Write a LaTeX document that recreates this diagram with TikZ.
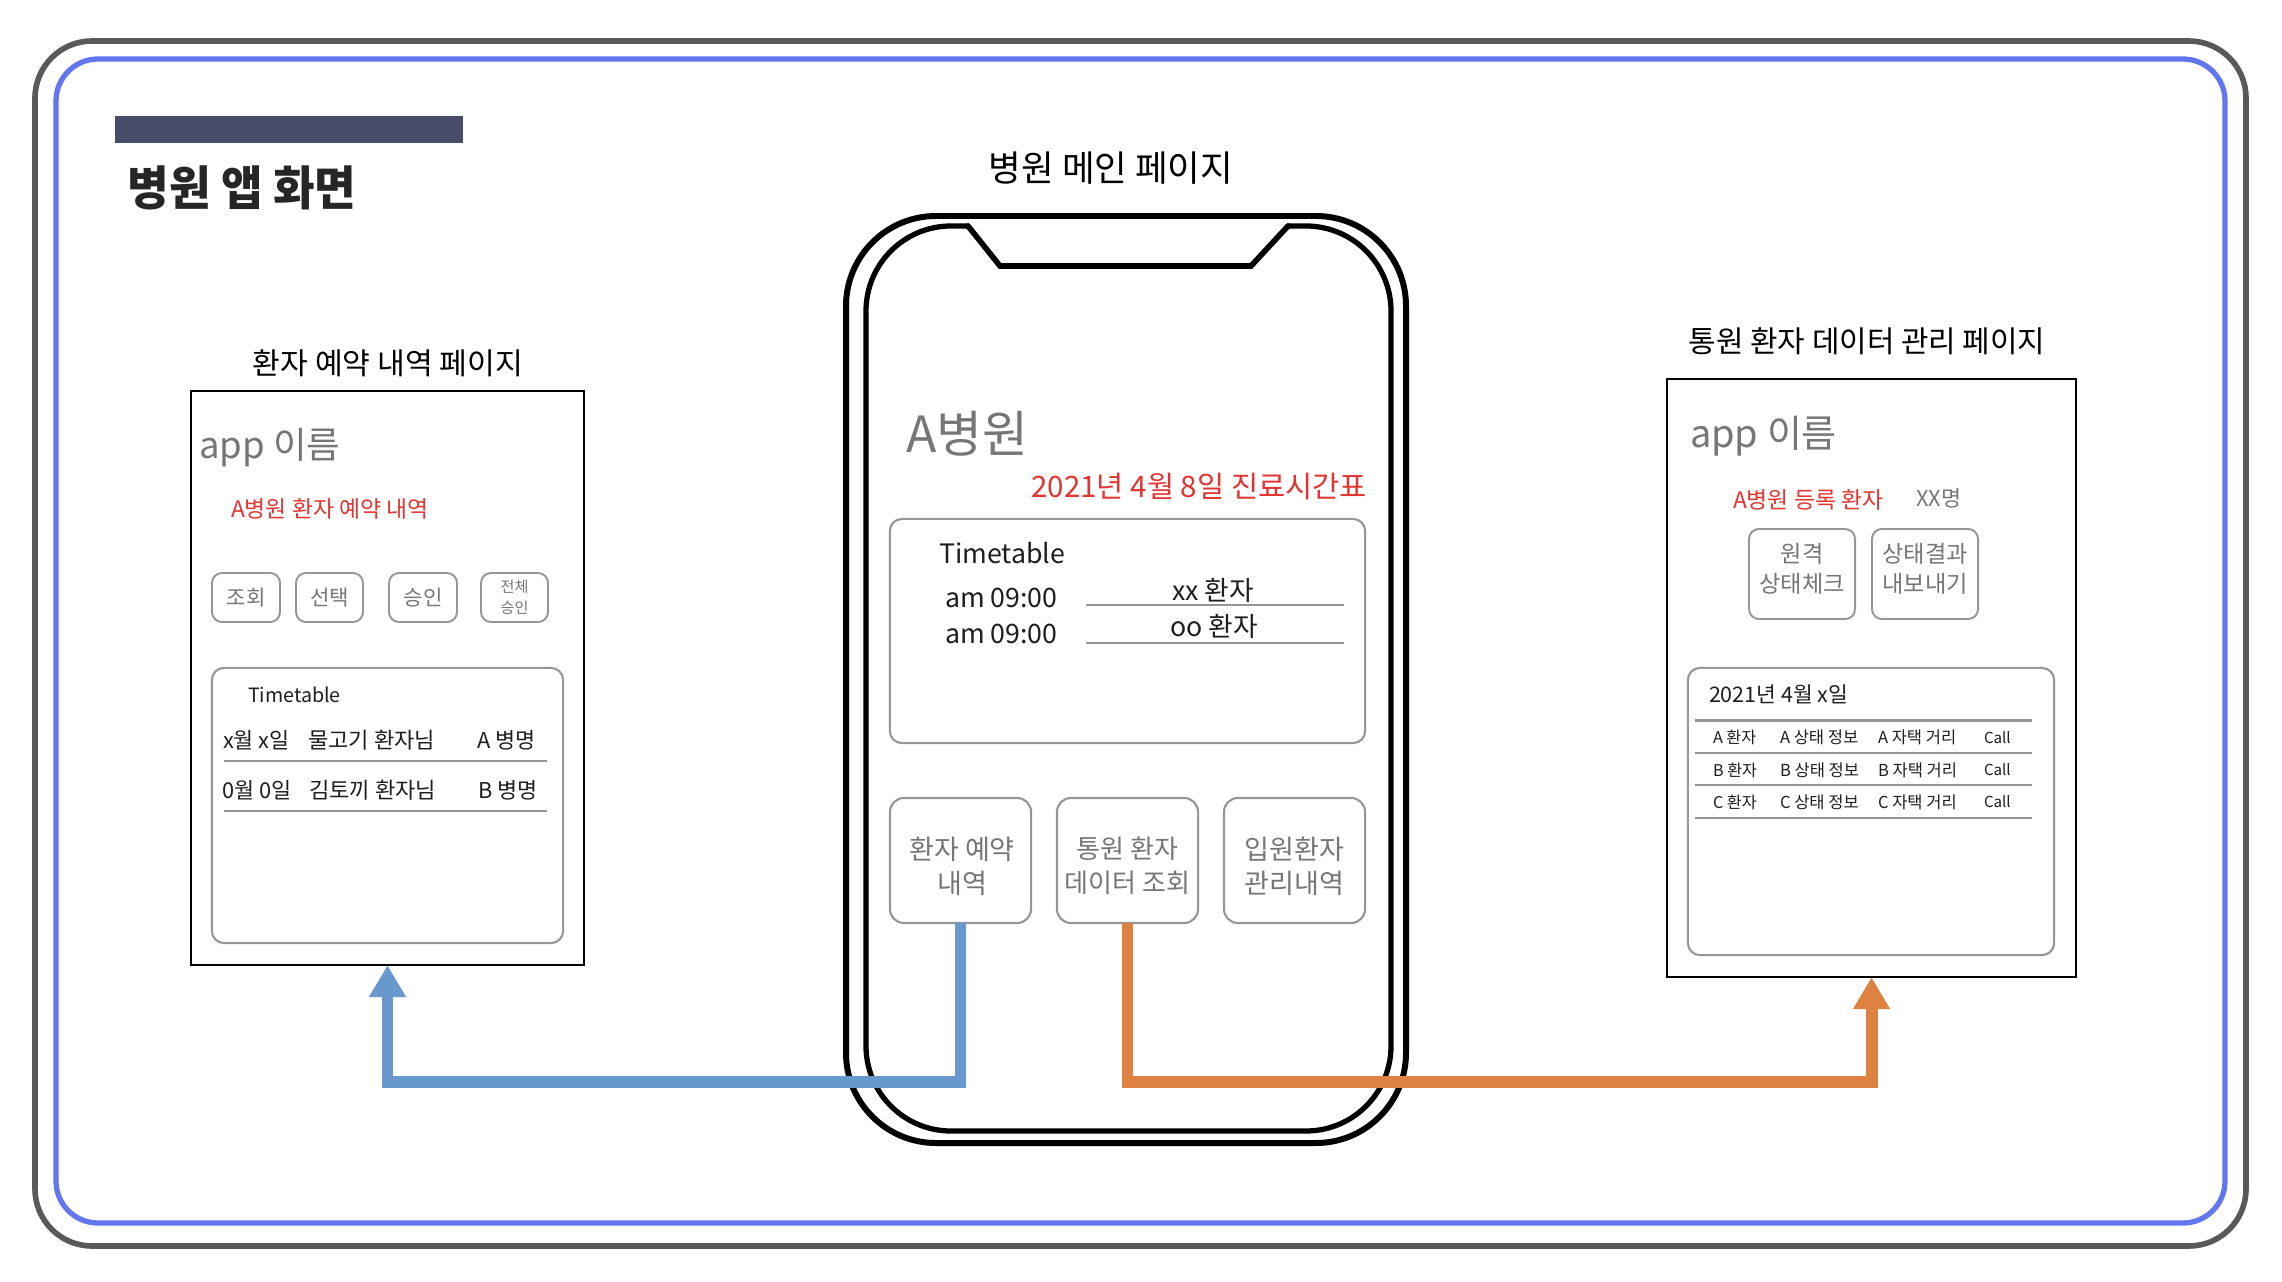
\documentclass[tikz,border=0pt]{standalone}
\usepackage{fontspec}
\setmainfont{Noto Sans CJK KR}
\usetikzlibrary{arrows.meta}
\definecolor{grayframe}{RGB}{89,89,89}
\definecolor{blueframe}{RGB}{98,118,240}
\definecolor{barcol}{RGB}{71,77,105}
\definecolor{titletxt}{RGB}{38,38,38}
\definecolor{txtgray}{RGB}{118,118,118}
\definecolor{redtxt}{RGB}{226,52,48}
\definecolor{boxgray}{RGB}{150,150,150}
\definecolor{arrblue}{RGB}{104,152,206}
\definecolor{arrorange}{RGB}{222,130,66}
\definecolor{darktxt}{RGB}{30,30,30}
\newcommand\fsz[2]{\fontsize{#1pt}{#2pt}\selectfont}
\begin{document}
\begin{tikzpicture}[x=0.01cm,y=-0.01cm,
  every node/.style={inner sep=0pt,outer sep=0pt},
  pagebox/.style={draw=black,line width=0.7pt,rectangle},
  btnS/.style={draw=boxgray,line width=0.55pt,rounded corners=0.1cm,text=txtgray,align=center},
  btnC/.style={draw=boxgray,line width=0.6pt,rounded corners=0.14cm,
     minimum width=1.41cm,minimum height=1.25cm},
  btnCtext/.style={text=txtgray,align=center,font=\fsz{7.7}{9.6}},
  panel/.style={draw=boxgray,line width=0.6pt,rounded corners=0.12cm},
  rowline/.style={draw=boxgray,line width=0.6pt},
  dk/.style={text=darktxt,anchor=west},
  conn/.style={line width=3.4pt,-{Triangle[length=0.32cm,width=0.35cm]}}]
\useasboundingbox (0,0) rectangle (2282,1282);
\fill[white] (0,0) rectangle (2282,1282);
% frames
\draw[grayframe,line width=1.6pt,rounded corners=0.57cm] (35,41) rectangle (2246,1246);
\draw[blueframe,line width=1.5pt,rounded corners=0.42cm] (56,59) rectangle (2225,1223);
% header
\fill[barcol] (115,116) rectangle (463,143);
\node[text=titletxt,font=\bfseries\fsz{13.4}{16}] (title) at (242,188) {\scalebox{0.96}[1]{병원 앱 화면}};
% titles
\node[text=black,font=\fsz{10.2}{12}] (maintitle) at (1111,168) {\scalebox{0.99}[1]{병원 메인 페이지}};
\node[text=black,font=\fsz{8.5}{10}] (lefttitle) at (388,363) {\scalebox{1.01}[1]{환자 예약 내역 페이지}};
\node[text=black,font=\fsz{8.5}{10}] (righttitle) at (1867,341) {통원 환자 데이터 관리 페이지};
% left page
\node[pagebox,minimum width=3.93cm,minimum height=5.74cm] (leftpage) at (387.5,678) {};
\node[anchor=west,text=txtgray,font=\fsz{10.4}{12}] (lapp) at (199,448) {app 이름};
\node[anchor=west,text=redtxt,font=\fsz{6.5}{7}] (lred) at (231,508.5) {A병원 환자 예약 내역};
\node[btnS,minimum width=0.68cm,minimum height=0.49cm,font=\fsz{6}{7}] (lb1) at (246,597.5) {조회};
\node[btnS,minimum width=0.67cm,minimum height=0.49cm,font=\fsz{6}{7}] (lb2) at (329.5,597.5) {선택};
\node[btnS,minimum width=0.68cm,minimum height=0.49cm,font=\fsz{6}{7}] (lb3) at (423,597.5) {승인};
\node[btnS,minimum width=0.67cm,minimum height=0.49cm,font=\fsz{4.3}{6}] (lb4) at (514.5,597.5) {전체\\승인};
\node[panel,minimum width=3.51cm,minimum height=2.75cm] (lpanel) at (387.5,805.5) {};
\node[dk,font=\fsz{5.6}{7}] (ltt) at (248,695) {Timetable};
\node[dk,font=\fsz{6.2}{7}] (lr1a) at (223,740) {x월 x일};
\node[dk,font=\fsz{6.3}{7}] (lr1b) at (308,740) {물고기 환자님};
\node[dk,font=\fsz{6.2}{7}] (lr1c) at (477,740) {A 병명};
\node[dk,font=\fsz{6.2}{7}] (lr2a) at (222,790) {0월 0일};
\node[dk,font=\fsz{6.3}{7}] (lr2b) at (309,790) {김토끼 환자님};
\node[dk,font=\fsz{6.2}{7}] (lr2c) at (478,790) {B 병명};
\draw[rowline] (224,761) -- (547,761);
\draw[rowline] (224,811) -- (547,811);
% phone
\draw[line width=1.7pt,rounded corners=0.9cm] (846,216) rectangle (1406,1143);
\draw[line width=1.5pt,rounded corners=0.85cm,line cap=round] (968,226) -- (866,226) -- (866,1131) -- (1391,1131) -- (1391,226) -- (1288,226);
\draw[line width=1.6pt,line join=miter,line cap=round] (968,226) -- (1000,266) -- (1251,266) -- (1288,226);
\node[anchor=west,text=txtgray,font=\fsz{14.2}{16}] (ahosp) at (906,434) {A병원};
\node[anchor=east,text=redtxt,font=\fsz{8.4}{9}] (cred) at (1367,486) {2021년 4월 8일 진료시간표};
\node[panel,minimum width=4.75cm,minimum height=2.24cm] (cpanel) at (1127.5,631) {};
\node[dk,font=\fsz{7.6}{9}] (ctt) at (939,553) {Timetable};
\node[dk,font=\fsz{7.6}{9}] (cam1) at (945,598) {am 09:00};
\node[dk,font=\fsz{7.6}{9}] (cam2) at (945,634) {am 09:00};
\draw[rowline] (1086,605) -- (1344,605);
\draw[rowline] (1086,643) -- (1344,643);
\node[text=darktxt,font=\fsz{7.6}{9}] (cp1) at (1213,590) {xx 환자};
\node[text=darktxt,font=\fsz{7.6}{9}] (cp2) at (1214,626) {oo 환자};
\node[btnC] (btn1) at (960.5,860.5) {};
\node[btnC] (btn2) at (1127.5,860.5) {};
\node[btnC] (btn3) at (1294.5,860.5) {};
\node[btnCtext] (btn1t) at (962,866) {환자 예약\\내역};
\node[btnCtext,font=\fsz{7.4}{9.6}] (btn2t) at (1127.5,866) {통원 환자\\데이터 조회};
\node[btnCtext] (btn3t) at (1294.5,866) {입원환자\\관리내역};
% right page
\node[pagebox,minimum width=4.09cm,minimum height=5.98cm] (rightpage) at (1871.5,678) {};
\node[anchor=west,text=txtgray,font=\fsz{10.8}{12}] (rapp) at (1690,436) {app 이름};
\node[anchor=west,text=redtxt,font=\fsz{6.5}{7}] (rred) at (1733,500) {A병원 등록 환자};
\node[anchor=west,text=txtgray,font=\fsz{6.2}{7}] (rxx) at (1916,498) {XX명};
\node[btnS,minimum width=1.06cm,minimum height=0.9cm] (rb1) at (1802,574) {};
\node[btnS,minimum width=1.06cm,minimum height=0.9cm] (rb2) at (1925,574) {};
\node[text=txtgray,align=center,font=\fsz{6.6}{8.4}] (rb1t) at (1802,569) {원격\\상태체크};
\node[text=txtgray,align=center,font=\fsz{6.6}{8.4}] (rb2t) at (1925,569) {상태결과\\내보내기};
\node[panel,minimum width=3.66cm,minimum height=2.87cm] (rpanel) at (1871,811.5) {};
\node[dk,font=\fsz{6.1}{7}] (rdate) at (1709,694) {2021년 4월 x일};
\draw[rowline] (1695,720.5) -- (2032,720.5);
\draw[rowline] (1695,753) -- (2032,753);
\draw[rowline] (1695,785) -- (2032,785);
\draw[rowline] (1695,818) -- (2032,818);
\foreach \l/\y in {A/737.5,B/770,C/802}{
  \node[dk,font=\fsz{4.6}{5}] (rn\l) at (1713,\y) {\l{} 환자};
  \node[dk,font=\fsz{4.7}{5}] (rs\l) at (1780,\y) {\l{} 상태 정보};
  \node[dk,font=\fsz{4.7}{5}] (rd\l) at (1878,\y) {\l{} 자택 거리};
  \node[dk,font=\fsz{4.3}{5}] (rc\l) at (1984,\y) {Call};
}
% connectors
\draw[conn,arrblue] (btn1.south) -- (btn1.south |- 0,1082) -| (leftpage.south);
\draw[conn,arrorange] (btn2.south) -- (btn2.south |- 0,1082) -| (rightpage.south);
\end{tikzpicture}
\end{document}
